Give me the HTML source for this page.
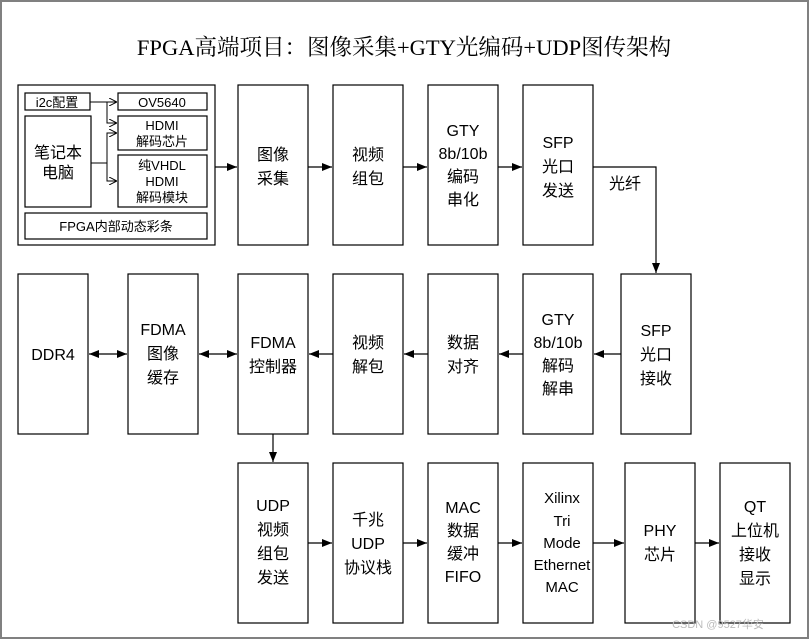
<!DOCTYPE html>
<html><head><meta charset="utf-8"><style>
body{margin:0;background:#fff}
svg text{font-family:"Liberation Sans","Noto Sans CJK SC",sans-serif;font-size:16px;fill:#000;text-anchor:middle}
.s{font-size:13px}
.x{font-size:15px}
</style></head><body>
<svg width="809" height="639" viewBox="0 0 809 639" xmlns="http://www.w3.org/2000/svg">
<defs>
<marker id="a" markerWidth="10" markerHeight="8" refX="10" refY="4" orient="auto" markerUnits="userSpaceOnUse"><path d="M0,0 L10,4 L0,8 z" fill="#000"/></marker>
<marker id="b" markerWidth="10" markerHeight="8" refX="0" refY="4" orient="auto" markerUnits="userSpaceOnUse"><path d="M10,0 L0,4 L10,8 z" fill="#000"/></marker>
<marker id="o" markerWidth="8" markerHeight="8" refX="8" refY="4" orient="auto" markerUnits="userSpaceOnUse"><path d="M0,0 L8,4 L0,8" fill="none" stroke="#000"/></marker>
</defs>
<rect x="1" y="1" width="807" height="637" fill="#fff" stroke="#808080" stroke-width="2"/>
<text x="404" y="55" style="font-family:'Liberation Serif','Noto Serif CJK SC',serif;font-size:22.5px">FPGA高端项目：图像采集+GTY光编码+UDP图传架构</text>
<g fill="none" stroke="#000" stroke-width="1.2">
<rect x="18" y="85" width="197" height="160"/>
<rect x="25" y="93" width="65" height="17"/>
<rect x="118" y="93" width="89" height="17"/>
<rect x="118" y="116" width="89" height="34"/>
<rect x="118" y="155" width="89" height="52"/>
<rect x="25" y="116" width="66" height="91"/>
<rect x="25" y="213" width="182" height="26"/>
<rect x="238" y="85" width="70" height="160"/>
<rect x="333" y="85" width="70" height="160"/>
<rect x="428" y="85" width="70" height="160"/>
<rect x="523" y="85" width="70" height="160"/>
<rect x="18" y="274" width="70" height="160"/>
<rect x="128" y="274" width="70" height="160"/>
<rect x="238" y="274" width="70" height="160"/>
<rect x="333" y="274" width="70" height="160"/>
<rect x="428" y="274" width="70" height="160"/>
<rect x="523" y="274" width="70" height="160"/>
<rect x="621" y="274" width="70" height="160"/>
<rect x="238" y="463" width="70" height="160"/>
<rect x="333" y="463" width="70" height="160"/>
<rect x="428" y="463" width="70" height="160"/>
<rect x="523" y="463" width="70" height="160"/>
<rect x="625" y="463" width="70" height="160"/>
<rect x="720" y="463" width="70" height="160"/>
</g>
<g fill="none" stroke="#000" stroke-width="1">
<path d="M90,102 H107 V123 H117" marker-end="url(#o)"/>
<path d="M107,102 H117" marker-end="url(#o)"/>
<path d="M91,163 H107 V133 H117" marker-end="url(#o)"/>
<path d="M107,163 V181 H117" marker-end="url(#o)"/>
</g>
<g fill="none" stroke="#000" stroke-width="1.2">
<path d="M215,167 H237" marker-end="url(#a)"/>
<path d="M308,167 H332" marker-end="url(#a)"/>
<path d="M403,167 H427" marker-end="url(#a)"/>
<path d="M498,167 H522" marker-end="url(#a)"/>
<path d="M593,167 H656 V273" marker-end="url(#a)"/>
<path d="M621,354 H594" marker-end="url(#a)"/>
<path d="M523,354 H499" marker-end="url(#a)"/>
<path d="M428,354 H404" marker-end="url(#a)"/>
<path d="M333,354 H309" marker-end="url(#a)"/>
<path d="M89,354 H127" marker-start="url(#b)" marker-end="url(#a)"/>
<path d="M199,354 H237" marker-start="url(#b)" marker-end="url(#a)"/>
<path d="M273,434 V462" marker-end="url(#a)"/>
<path d="M308,543 H332" marker-end="url(#a)"/>
<path d="M403,543 H427" marker-end="url(#a)"/>
<path d="M498,543 H522" marker-end="url(#a)"/>
<path d="M593,543 H624" marker-end="url(#a)"/>
<path d="M695,543 H719" marker-end="url(#a)"/>
</g>
<text class="s" x="57" y="107">i2c配置</text>
<text class="s" x="162" y="107">OV5640</text>
<text class="s" x="162" y="130">HDMI</text><text class="s" x="162" y="146">解码芯片</text>
<text class="s" x="162" y="170">纯VHDL</text><text class="s" x="162" y="186">HDMI</text><text class="s" x="162" y="202">解码模块</text>
<text x="58" y="158">笔记本</text><text x="58" y="178">电脑</text>
<text class="s" x="116" y="231">FPGA内部动态彩条</text>
<text x="273" y="160">图像</text><text x="273" y="184">采集</text>
<text x="368" y="160">视频</text><text x="368" y="184">组包</text>
<text x="463" y="136">GTY</text><text x="463" y="159">8b/10b</text><text x="463" y="182">编码</text><text x="463" y="205">串化</text>
<text x="558" y="148">SFP</text><text x="558" y="172">光口</text><text x="558" y="196">发送</text>
<text x="625" y="189">光纤</text>
<text x="53" y="360">DDR4</text>
<text x="163" y="335">FDMA</text><text x="163" y="359">图像</text><text x="163" y="383">缓存</text>
<text x="273" y="348">FDMA</text><text x="273" y="372">控制器</text>
<text x="368" y="348">视频</text><text x="368" y="372">解包</text>
<text x="463" y="348">数据</text><text x="463" y="372">对齐</text>
<text x="558" y="325">GTY</text><text x="558" y="348">8b/10b</text><text x="558" y="371">解码</text><text x="558" y="394">解串</text>
<text x="656" y="336">SFP</text><text x="656" y="360">光口</text><text x="656" y="384">接收</text>
<text x="273" y="511">UDP</text><text x="273" y="535">视频</text><text x="273" y="559">组包</text><text x="273" y="583">发送</text>
<text x="368" y="525">千兆</text><text x="368" y="549">UDP</text><text x="368" y="573">协议栈</text>
<text x="463" y="513">MAC</text><text x="463" y="536">数据</text><text x="463" y="559">缓冲</text><text x="463" y="582">FIFO</text>
<text class="x" x="562" y="503">Xilinx</text><text class="x" x="562" y="526">Tri</text><text class="x" x="562" y="548">Mode</text><text class="x" x="562" y="570">Ethernet</text><text class="x" x="562" y="592">MAC</text>
<text x="660" y="536">PHY</text><text x="660" y="560">芯片</text>
<text x="755" y="512">QT</text><text x="755" y="536">上位机</text><text x="755" y="560">接收</text><text x="755" y="584">显示</text>
<text x="718" y="628" style="font-size:11px;fill:#bbb">CSDN @9527华安</text>
</svg>
</body></html>
